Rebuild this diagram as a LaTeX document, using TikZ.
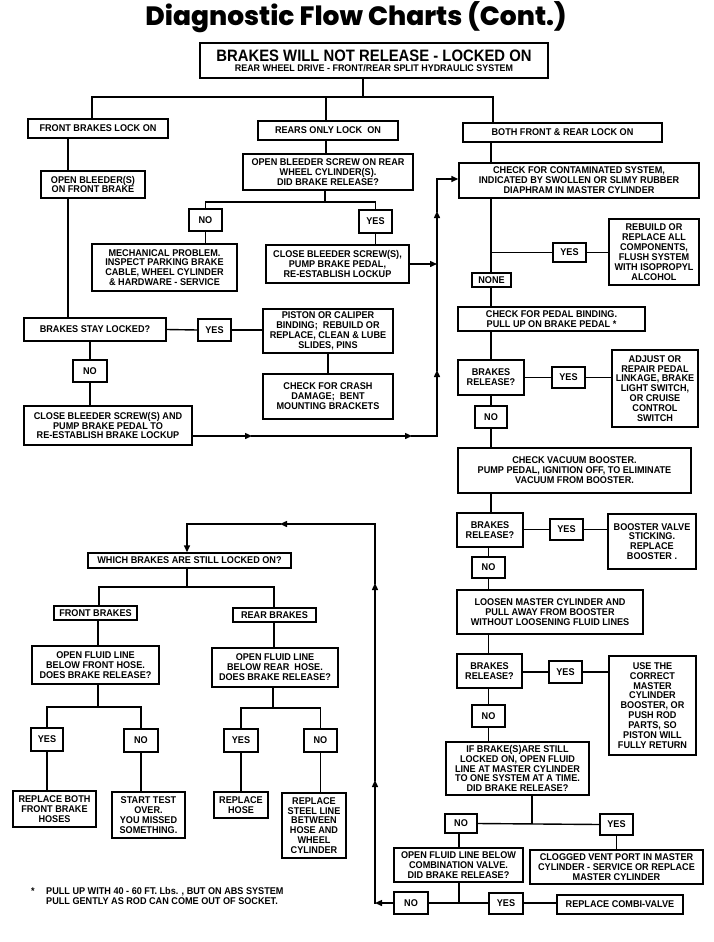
\documentclass[tikz,border=0pt]{standalone}
\usepackage{fontspec}
\setmainfont{Liberation Sans}[FakeStretch=0.93]
\IfFontExistsTF{Poppins ExtraBold}
  {\newfontfamily\titlef{Poppins ExtraBold}\newcommand\titlesize{\fontsize{26.5}{26}\selectfont}}
  {\newfontfamily\titlef{Poppins}[UprightFont=* Bold, UprightFeatures={FakeBold=1.5}]\newcommand\titlesize{\fontsize{27}{26}\selectfont}}
\newfontfamily\narrowf{Liberation Sans}[FakeStretch=0.9]
\usetikzlibrary{arrows.meta}
\newcommand\bxfont{\fontsize{9.8}{9.9}\selectfont\bfseries}
\newcommand\mkbox[6]{\node[box, minimum width={(#3)-(#2)}, minimum height={(#5)-(#4)}] (#1) at ({((#2)+(#3))/2},{((#4)+(#5))/2}) {#6};}
\tikzset{
  box/.style={draw, line width=1.4pt, inner sep=0.8pt, align=center, font=\bxfont},
  ln/.style={line width=1.4pt, line cap=rect},
  arr/.style={ln, -{Triangle[length=7pt,width=6pt]}},
}
\begin{document}
\begin{tikzpicture}[x=1pt,y=-1pt]
\useasboundingbox (0,0) rectangle (714,942);
\fill[white] (0,0) rectangle (714,942);
% title
\node[font=\titlef\titlesize, anchor=base, inner sep=0pt] (title) at (356,25.5) {Diagnostic Flow Charts (Cont.)};
% top box
\node[draw, line width=2pt, inner sep=1pt, align=center, minimum width=348, minimum height=35] (top) at (374,60.5)
  {{\narrowf\bfseries\fontsize{16.5}{15}\selectfont BRAKES WILL NOT RELEASE - LOCKED ON}\\[-2pt]
   {\bfseries\fontsize{9.6}{9}\selectfont REAR WHEEL DRIVE - FRONT/REAR SPLIT HYDRAULIC SYSTEM}};
% level 1
\mkbox{flo}{28}{168}{119}{138}{FRONT BRAKES LOCK ON}
\mkbox{rol}{258}{398}{121}{140}{REARS ONLY LOCK\ \ ON}
\mkbox{bfr}{463}{662}{123}{142}{BOTH FRONT \& REAR LOCK ON}
% left column
\mkbox{obf}{41}{145}{171}{198}{OPEN BLEEDER(S)\\ON FRONT BRAKE}
\mkbox{obr}{243}{413}{154}{190}{OPEN BLEEDER SCREW ON REAR\\WHEEL CYLINDER(S).\\DID BRAKE RELEASE?}
\mkbox{no1}{189}{222}{209}{231}{NO}
\mkbox{yes1}{359}{392}{210}{233}{YES}
\mkbox{mech}{92}{237}{244}{291}{MECHANICAL PROBLEM.\\INSPECT PARKING BRAKE\\CABLE, WHEEL CYLINDER\\\& HARDWARE - SERVICE}
\mkbox{cbs}{266}{409}{245}{283}{CLOSE BLEEDER SCREW(S),\\PUMP BRAKE PEDAL,\\RE-ESTABLISH LOCKUP}
\mkbox{bsl}{24}{166}{318}{341}{BRAKES STAY LOCKED?}
\mkbox{yes2}{198}{231}{319}{341}{YES}
\mkbox{pist}{263}{393}{309}{353}{PISTON OR CALIPER\\BINDING;\ \ REBUILD OR\\REPLACE, CLEAN \& LUBE\\SLIDES, PINS}
\mkbox{crash}{263}{393}{374}{419}{CHECK FOR CRASH\\DAMAGE;\ \ BENT\\MOUNTING BRACKETS}
\mkbox{no2}{73}{107}{360}{382}{NO}
\mkbox{cbl}{24}{192}{406}{445}{CLOSE BLEEDER SCREW(S) AND\\PUMP BRAKE PEDAL TO\\RE-ESTABLISH BRAKE LOCKUP}
% right column
\mkbox{cont}{459}{699}{163}{198}{CHECK FOR CONTAMINATED SYSTEM,\\INDICATED BY SWOLLEN OR SLIMY RUBBER\\DIAPHRAM IN MASTER CYLINDER}
\mkbox{yes3}{553}{586}{243}{262}{YES}
\mkbox{rebuild}{609}{699}{219}{285}{REBUILD OR\\REPLACE ALL\\COMPONENTS,\\FLUSH SYSTEM\\WITH ISOPROPYL\\ALCOHOL}
\mkbox{none}{472}{511}{273}{287}{NONE}
\mkbox{pedal}{458}{645}{307}{331}{CHECK FOR PEDAL BINDING.\\PULL UP ON BRAKE PEDAL *}
\mkbox{br1}{458}{524}{360}{395}{BRAKES\\RELEASE?}
\mkbox{yes4}{552}{585}{367}{388}{YES}
\mkbox{adjust}{612}{698}{350}{427}{ADJUST OR\\REPAIR PEDAL\\LINKAGE, BRAKE\\LIGHT SWITCH,\\OR CRUISE\\CONTROL\\SWITCH}
\mkbox{no3}{475}{507}{406}{428}{NO}
\mkbox{vac}{458}{691}{448}{493}{CHECK VACUUM BOOSTER.\\PUMP PEDAL, IGNITION OFF, TO ELIMINATE\\VACUUM FROM BOOSTER.}
\mkbox{br2}{457}{523}{513}{547}{BRAKES\\RELEASE?}
\mkbox{yes5}{550}{583}{519}{540}{YES}
\mkbox{boost}{608}{696}{514}{569}{BOOSTER VALVE\\STICKING.\\REPLACE\\BOOSTER .}
\mkbox{no4}{472}{505}{557}{578}{NO}
\mkbox{loosen}{457}{643}{590}{634}{LOOSEN MASTER CYLINDER AND\\PULL AWAY FROM BOOSTER\\WITHOUT LOOSENING FLUID LINES}
\mkbox{br3}{457}{522}{654}{688}{BRAKES\\RELEASE?}
\mkbox{yes6}{549}{582}{661}{683}{YES}
\mkbox{use}{609}{696}{656}{755}{USE THE\\CORRECT\\MASTER\\CYLINDER\\BOOSTER, OR\\PUSH ROD\\PARTS, SO\\PISTON WILL\\FULLY RETURN}
\mkbox{no5}{472}{505}{705}{727}{NO}
\mkbox{ifb}{446}{589}{742}{795}{IF BRAKE(S)ARE STILL\\LOCKED ON, OPEN FLUID\\LINE AT MASTER CYLINDER\\TO ONE SYSTEM AT A TIME.\\DID BRAKE RELEASE?}
\mkbox{no6}{445}{477}{814}{833}{NO}
\mkbox{yes7}{600}{633}{814}{835}{YES}
\mkbox{ofl}{394}{523}{848}{882}{OPEN FLUID LINE BELOW\\COMBINATION VALVE.\\DID BRAKE RELEASE?}
\mkbox{clog}{530}{703}{850}{884}{CLOGGED VENT PORT IN MASTER\\CYLINDER - SERVICE OR REPLACE\\MASTER CYLINDER}
\mkbox{no7}{394}{428}{892}{914}{NO}
\mkbox{yes8}{489}{523}{893}{914}{YES}
\mkbox{combi}{557}{683}{895}{914}{REPLACE COMBI-VALVE}
% lower left
\mkbox{which}{88}{291}{553}{568}{WHICH BRAKES ARE STILL LOCKED ON?}
\mkbox{fb}{54}{137}{606}{620}{FRONT BRAKES}
\mkbox{rb}{233}{316}{608}{622}{REAR BRAKES}
\mkbox{ofront}{32}{159}{646}{684}{OPEN FLUID LINE\\BELOW FRONT HOSE.\\DOES BRAKE RELEASE?}
\mkbox{orear}{212}{338}{648}{687}{OPEN FLUID LINE\\BELOW REAR\ \ HOSE.\\DOES BRAKE RELEASE?}
\mkbox{yes9}{31}{63}{728}{751}{YES}
\mkbox{no8}{124}{158}{729}{752}{NO}
\mkbox{yes10}{224}{258}{729}{752}{YES}
\mkbox{no9}{304}{337}{729}{752}{NO}
\mkbox{rboth}{13}{96}{791}{827}{REPLACE BOTH\\FRONT BRAKE\\HOSES}
\mkbox{start}{112}{185}{792}{838}{START TEST\\OVER.\\YOU MISSED\\SOMETHING.}
\mkbox{rhose}{214}{268}{792}{818}{REPLACE\\HOSE}
\mkbox{rsteel}{282}{346}{793}{858}{REPLACE\\STEEL LINE\\BETWEEN\\HOSE AND\\WHEEL\\CYLINDER}
% footnote
\node[font=\bxfont, inner sep=0pt] (star) at (33,891) {*};
\node[font=\bxfont, align=left, anchor=north west, inner sep=0pt] (foot) at (46,887)
  {PULL UP WITH 40 - 60 FT. Lbs. , BUT ON ABS SYSTEM\\PULL GENTLY AS ROD CAN COME OUT OF SOCKET.};
% ---------- connectors ----------
\coordinate (h0) at (363,97);
\coordinate (hL) at (92,97);
\coordinate (hM) at (326,97);
\coordinate (hR) at (493,97);
\coordinate (xa) at (68,0);
\coordinate (xr) at (491,0);
\draw[ln] (top.south -| h0) -- (h0);
\draw[ln] (hL) -- (hR);
\draw[ln] (hL) -- (flo.north -| hL);
\draw[ln] (hM) -- (rol.north -| hM);
\draw[ln] (hR) -- (bfr.north -| hR);
% front brakes lock on
\draw[ln] (flo.south -| xa) -- (obf.north -| xa);
\draw[ln] (obf.south -| xa) -- (bsl.north -| xa);
\draw[ln] (bsl.east) -- (yes2.west);
\draw[ln] (yes2.east) -- (yes2.east -| pist.west);
\draw[ln] (pist.south) -- (crash.north);
\draw[ln] (bsl.south -| no2.north) -- (no2.north);
\draw[ln] (no2.south) -- (no2.south |- cbl.north);
% rears only
\draw[ln] (rol.south -| hM) -- (obr.north -| hM);
\coordinate (j1) at (325,202);
\draw[ln] (obr.south -| j1) -- (j1);
\draw[ln] (no1.north) |- (j1) -| (yes1.north);
\draw[ln] (no1.south) -- (no1.south |- mech.north);
\draw[ln] (yes1.south) -- (yes1.south |- cbs.north);
% return spine to contaminated
\coordinate (sp) at (437,0);
\coordinate (c1) at (192,436);
\draw[arr] (cbs.east |- 0,264) -- (sp |- 0,264);
\draw[arr] (c1) -- (252,436);
\draw[arr] (252,436) -- (412,436);
\draw[ln] (412,436) -- (437,436);
\draw[arr] (437,436) -- (437,370);
\draw[arr] (437,370) -- (437,211);
\draw[arr] (437,211) -- (437,179) -- (cont.west |- 0,179);
% both front & rear
\draw[ln] (bfr.south -| xr) -- (cont.north -| xr);
\draw[ln] (cont.south -| xr) -- (none.north -| xr);
\draw[ln] (yes3.west -| xr) -- (yes3.west);
\draw[ln] (yes3.east) -- (yes3.east -| rebuild.west);
\draw[ln] (none.south -| xr) -- (pedal.north -| xr);
\draw[ln] (pedal.south -| xr) -- (br1.north -| xr);
\draw[ln] (br1.east |- yes4.west) -- (yes4.west);
\draw[ln] (yes4.east) -- (yes4.east -| adjust.west);
\draw[ln] (br1.south -| xr) -- (no3.north -| xr);
\draw[ln] (no3.south -| xr) -- (vac.north -| xr);
\draw[ln] (vac.south -| xr) -- (br2.north -| xr);
\draw[ln] (br2.east |- yes5.west) -- (yes5.west);
\draw[ln] (yes5.east) -- (yes5.east -| boost.west);
\draw[ln] (br2.south -| no4.north) -- (no4.north);
\draw[ln] (no4.south) -- (no4.south |- loosen.north);
\draw[ln] (loosen.south -| no4.south) -- (no4.south |- br3.north);
\draw[ln] (br3.east |- yes6.west) -- (yes6.west);
\draw[ln] (yes6.east) -- (yes6.east -| use.west);
\draw[ln] (br3.south -| no5.north) -- (no5.north);
\draw[ln] (no5.south) -- (no5.south |- ifb.north);
\coordinate (j6) at (532,823.5);
\draw[ln] (ifb.south -| j6) -- (j6);
\draw[ln] (no6.east) -- (yes7.west);
\draw[ln] (no6.south -| 459,0) -- (ofl.north -| 459,0);
\draw[ln] (yes7.south) -- (yes7.south |- clog.north);
\draw[ln] (ofl.south -| 459,0) -- (459,903);
\draw[ln] (no7.east |- 0,903) -- (yes8.west |- 0,903);
\draw[ln] (yes8.east |- 0,903) -- (combi.west |- 0,903);
% return loop to which brakes
\coordinate (rl) at (375,903);
\draw[arr] (no7.west |- rl) -- (rl);
\draw[arr] (rl) -- (375,780);
\draw[arr] (375,780) -- (375,583);
\draw[ln] (375,583) -- (375,524);
\draw[arr] (375,524) -- (280,524);
\draw[arr] (280,524) -- (187,524) -- (which.north -| 187,0);
% which brakes tree
\coordinate (j2) at (187,587);
\draw[ln] (which.south -| j2) -- (j2);
\draw[ln] (fb.north -| 99,0) |- (j2) -| (rb.north -| 274,0);
\draw[ln] (fb.south -| 98,0) -- (ofront.north -| 98,0);
\draw[ln] (rb.south -| 274,0) -- (orear.north -| 274,0);
\coordinate (j3) at (98,707);
\coordinate (j4) at (273,708);
\draw[ln] (ofront.south -| j3) -- (j3);
\draw[ln] (orear.south -| j4) -- (j4);
\draw[ln] (yes9.north) |- (j3) -| (no8.north);
\draw[ln] (yes10.north) |- (j4) -| (no9.north);
\draw[ln] (yes9.south) -- (yes9.south |- rboth.north);
\draw[ln] (no8.south) -- (no8.south |- start.north);
\draw[ln] (yes10.south) -- (yes10.south |- rhose.north);
\draw[ln] (no9.south) -- (no9.south |- rsteel.north);
\end{tikzpicture}
\end{document}
